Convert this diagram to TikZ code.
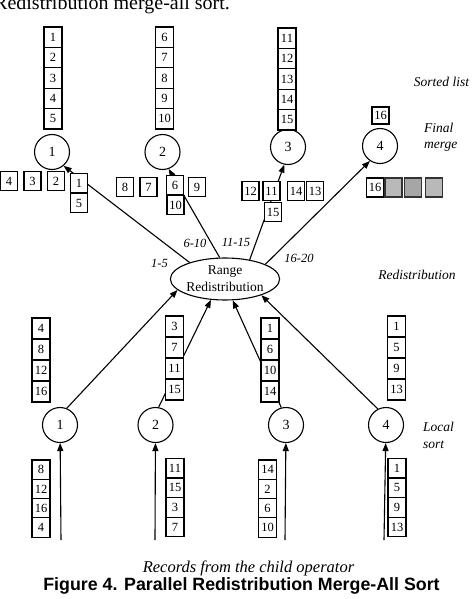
\documentclass[tikz,border=0pt]{standalone}
\usepackage{fontspec}
\setmainfont{Liberation Serif}
\newfontfamily\capsans{Liberation Sans}
\usetikzlibrary{arrows.meta,shapes.geometric}
\begin{document}
\begin{tikzpicture}[x=1pt,y=-1pt,
  rec/.style={draw,fill=white,inner sep=0pt,minimum width=18pt,minimum height=20.4pt,line width=1.1pt,font=\fontsize{12.5}{13}\selectfont},
  recs/.style={rec,minimum width=17pt,minimum height=19pt},
  reci/.style={rec,minimum width=18pt,minimum height=19.3pt},
  shade/.style={recs,fill=gray!55,draw=black!80},
  proc/.style={circle,draw,line width=1.1pt,minimum size=35pt,inner sep=0pt,font=\fontsize{14}{15}\selectfont},
  lab/.style={inner sep=0pt,font=\fontsize{13.5}{15}\selectfont\itshape},
  rng/.style={inner sep=0pt,font=\fontsize{12.5}{13}\selectfont\itshape},
  arr/.style={line width=1.1pt,-{Triangle[length=8pt,width=6pt]}},
]
\useasboundingbox (0,0) rectangle (474,599);
% clipped text at top
\node[anchor=base west,inner sep=0pt,font=\fontsize{20}{22}\selectfont] (toptxt) at (-6,10) {Redistribution merge-all sort.};
% sorted lists
\node[rec] (s1a) at (53,37.2) {1};
\node[rec] (s1b) at (53,57.6) {2};
\node[rec] (s1c) at (53,78) {3};
\node[rec] (s1d) at (53,98.4) {4};
\node[rec] (s1e) at (53,118.8) {5};
\node[rec] (s2a) at (164.5,37.2) {6};
\node[rec] (s2b) at (164.5,57.6) {7};
\node[rec] (s2c) at (164.5,78) {8};
\node[rec] (s2d) at (164.5,98.4) {9};
\node[rec] (s2e) at (164.5,118.8) {10};
\node[rec] (s3a) at (287,38.2) {11};
\node[rec] (s3b) at (287,58.6) {12};
\node[rec] (s3c) at (287,79) {13};
\node[rec] (s3d) at (287,99.4) {14};
\node[rec] (s3e) at (287,119.8) {15};
\node[recs,minimum height=17pt] (s4a) at (380.5,115.5) {16};
% final merge circles
\node[proc] (c1) at (52,152) {1};
\node[proc] (c2) at (162.5,152) {2};
\node[proc] (c3) at (288,147) {3};
\node[proc] (c4) at (380,146) {4};
% range redistribution
\node[ellipse,draw,line width=1.1pt,minimum width=105pt,minimum height=42pt,inner sep=0pt,align=center,font=\fontsize{13.5}{17}\selectfont] (ell) at (225,279) {Range\\Redistribution};
% arrows to final merge
\draw[arr] (ell.155) -- (c1.310);
\draw[arr] (ell.104) -- (c2.290);
\draw[arr] (ell.38) -- (c3.258);
\draw[arr] (ell.20) -- (c4.236);
% rows of records in transit
\node[recs] (r1a) at (9,181) {4};
\node[recs] (r1b) at (32.5,181) {3};
\node[recs] (r1c) at (56,181) {2};
\node[recs] (r1d) at (79,183) {1};
\node[recs] (r1e) at (79,203) {5};
\node[recs] (r2a) at (125,187) {8};
\node[recs] (r2b) at (148.5,187) {7};
\node[recs] (r2c) at (175,185) {6};
\node[recs] (r2d) at (197,187) {9};
\node[recs] (r2e) at (175.5,205) {10};
\node[recs] (r3a) at (250.5,191) {12};
\node[recs] (r3b) at (271.5,191) {11};
\node[recs] (r3c) at (296,191) {14};
\node[recs] (r3d) at (315,191) {13};
\node[recs] (r3e) at (273,212) {15};
\node[recs] (r4a) at (375,187.5) {16};
\node[shade] (r4b) at (393.5,187.5) {};
\node[shade,fill=gray!70] (r4c) at (413,187.5) {};
\node[shade] (r4d) at (434,187.5) {};
% local sort circles
\node[proc] (b1) at (60,425) {1};
\node[proc] (b2) at (155.5,425) {2};
\node[proc] (b3) at (286,425) {3};
\node[proc] (b4) at (386,425) {4};
\draw[arr] (b1.68) -- (ell.193);
\draw[arr] (b2.80) -- (ell.236);
\draw[arr] (b3.105) -- (ell.290);
\draw[arr] (b4.117) -- (ell.336);
% local sorted lists
\node[rec,minimum height=21pt] (l1a) at (41,328.5) {4};
\node[rec,minimum height=21pt] (l1b) at (41,349.5) {8};
\node[rec,minimum height=21pt] (l1c) at (41,370.5) {12};
\node[rec,minimum height=21pt] (l1d) at (41,391.5) {16};
\node[rec,minimum height=21pt] (l2a) at (174.5,326.5) {3};
\node[rec,minimum height=21pt] (l2b) at (174.5,347.5) {7};
\node[rec,minimum height=21pt] (l2c) at (174.5,368.5) {11};
\node[rec,minimum height=21pt] (l2d) at (174.5,389.5) {15};
\node[rec,minimum height=21pt] (l3a) at (270,328.5) {1};
\node[rec,minimum height=21pt] (l3b) at (270,349.5) {6};
\node[rec,minimum height=21pt] (l3c) at (270,370.5) {10};
\node[rec,minimum height=21pt] (l3d) at (270,391.5) {14};
\node[rec,minimum height=21pt] (l4a) at (396.5,326.5) {1};
\node[rec,minimum height=21pt] (l4b) at (396.5,347.5) {5};
\node[rec,minimum height=21pt] (l4c) at (396.5,368.5) {9};
\node[rec,minimum height=21pt] (l4d) at (396.5,389.5) {13};
% input records
\node[reci] (i1a) at (41,469.6) {8};
\node[reci] (i1b) at (41,488.9) {12};
\node[reci] (i1c) at (41,508.1) {16};
\node[reci] (i1d) at (41,527.4) {4};
\node[reci] (i2a) at (175,467.9) {11};
\node[reci] (i2b) at (175,487.6) {15};
\node[reci] (i2c) at (175,507.4) {3};
\node[reci] (i2d) at (175,527.1) {7};
\node[reci] (i3a) at (267.5,469.6) {14};
\node[reci] (i3b) at (267.5,488.9) {2};
\node[reci] (i3c) at (267.5,508.1) {6};
\node[reci] (i3d) at (267.5,527.4) {10};
\node[reci] (i4a) at (397,467.9) {1};
\node[reci] (i4b) at (397,487.6) {5};
\node[reci] (i4c) at (397,507.4) {9};
\node[reci] (i4d) at (397,527.1) {13};
\coordinate (p1) at (61,540);
\coordinate (p2) at (155,540);
\coordinate (p3) at (285,540);
\coordinate (p4) at (384,540);
\draw[arr] (p1) -- (b1);
\draw[arr] (p2) -- (b2);
\draw[arr] (p3) -- (b3);
\draw[arr] (p4) -- (b4);
% range labels
\node[rng] (g1) at (159.5,263) {1-5};
\node[rng] (g2) at (195,243) {6-10};
\node[rng] (g3) at (236,242) {11-15};
\node[rng] (g4) at (299,258) {16-20};
% side labels
\node[lab] (lsorted) at (441.5,82) {Sorted list};
\node[lab,anchor=west] (lfinal) at (424,128) {Final};
\node[lab,anchor=west] (lmerge) at (424,147) {merge};
\node[lab] (lredis) at (417,275) {Redistribution};
\node[lab,anchor=west] (llocal) at (423,427) {Local};
\node[lab,anchor=west] (lsort) at (423,445) {sort};
\node[lab,font=\fontsize{16.5}{18}\selectfont\itshape] (lrec) at (248.5,568) {Records from the child operator};
\node[inner sep=0pt,font=\capsans\bfseries\fontsize{17.8}{19}\selectfont] (cap) at (241.5,585.5) {Figure 4. Parallel Redistribution Merge-All Sort};
\end{tikzpicture}
\end{document}
